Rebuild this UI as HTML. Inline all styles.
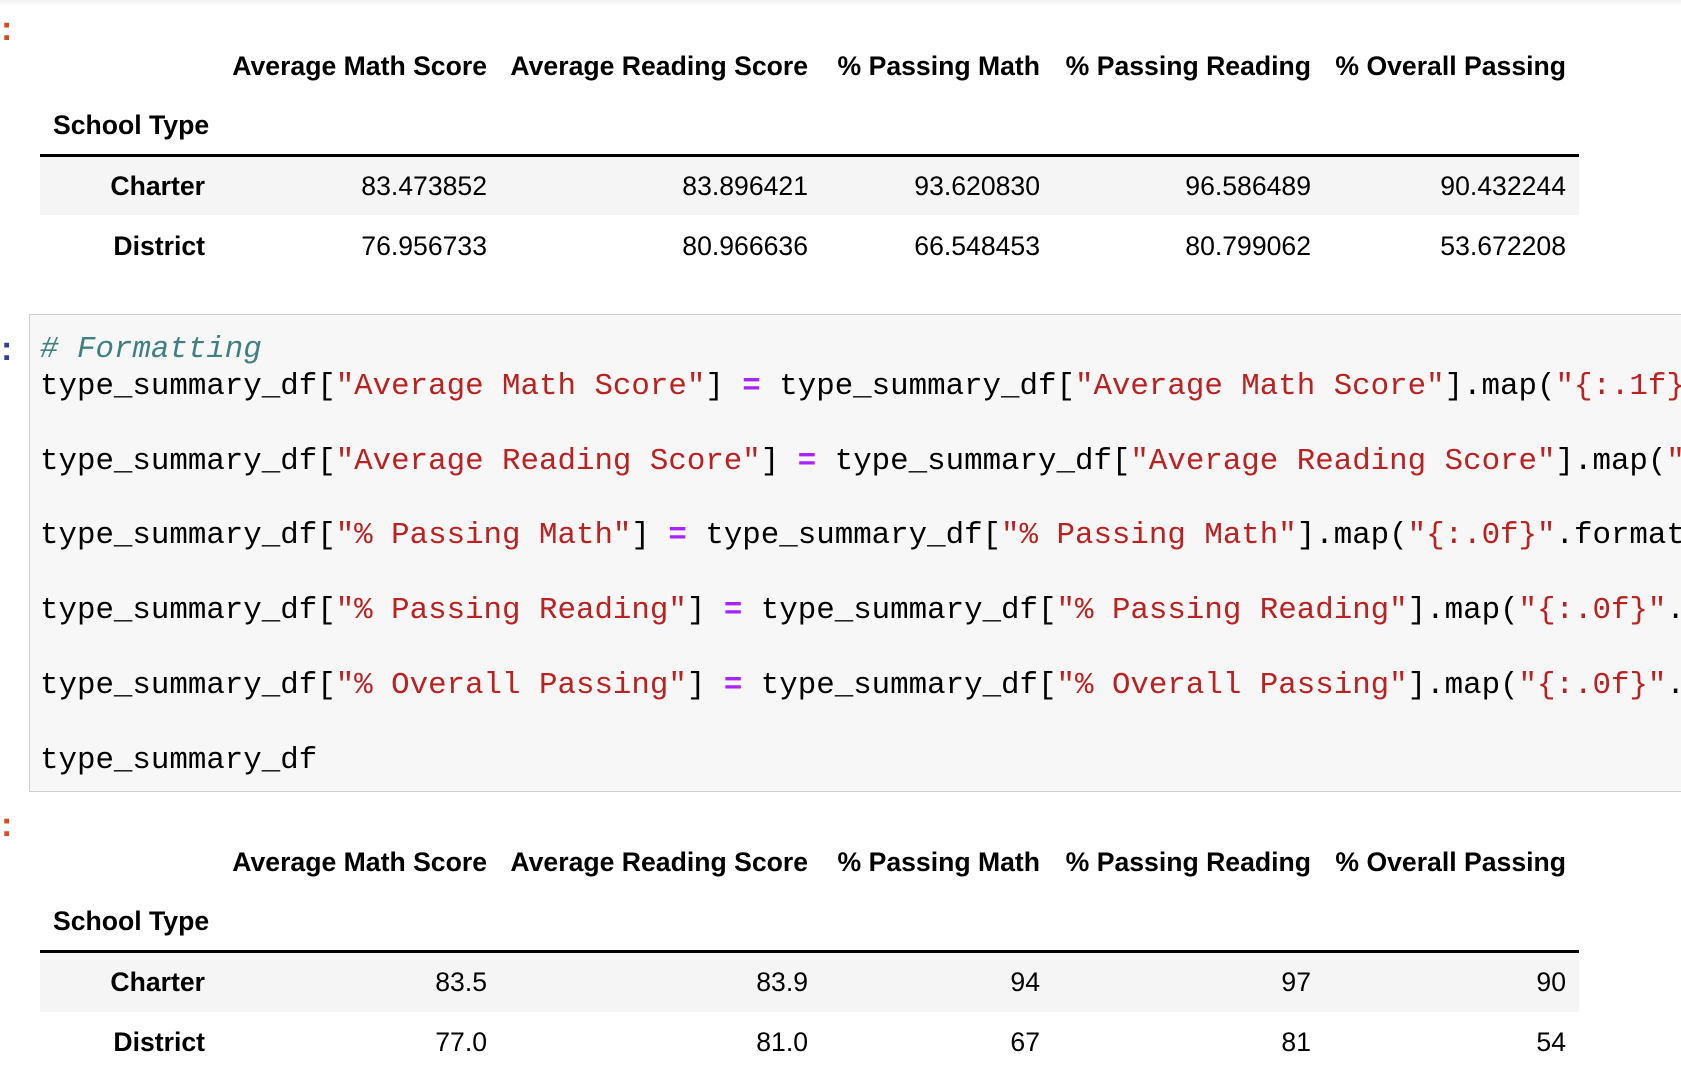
<!DOCTYPE html>
<html><head><meta charset="utf-8">
<style>
body{margin:0;width:1681px;height:1085px;overflow:hidden;background:#fff;position:relative;font-family:"Liberation Sans",Arial,sans-serif;color:#000}
.abs{position:absolute;white-space:nowrap}
.th{font-weight:bold;font-size:26.6px;line-height:30px}
.td{font-size:26.6px;line-height:30px}
.r{text-align:right}
.prompt{position:absolute;left:1px;font-size:34px;font-weight:bold;line-height:30px}
.band{position:absolute;left:40px;width:1539px;background:#f5f5f5}
.rule{position:absolute;left:40px;width:1539px;height:3px;background:#000}
.code{position:absolute;left:29px;top:314px;width:1680px;height:476px;background:#f7f7f7;border:1px solid #cfcfcf;overflow:hidden}
.ln{position:absolute;left:10px;font-family:"Liberation Mono",monospace;font-size:30.8px;line-height:36px;white-space:pre}
.s{color:#ba2121}.o{color:#aa22ff;font-weight:bold}.c{color:#408080;font-style:italic}
</style></head><body>
<div class="abs" style="left:0;top:0;width:1681px;height:6px;background:linear-gradient(#f2f2f2,#fff)"></div>

<div>
<div class="prompt" style="top:14px;color:#d84a22">:</div>
<div class="abs th r" style="right:1194px;top:51px">Average Math Score</div>
<div class="abs th r" style="right:873px;top:51px">Average Reading Score</div>
<div class="abs th r" style="right:641px;top:51px">% Passing Math</div>
<div class="abs th r" style="right:370px;top:51px">% Passing Reading</div>
<div class="abs th r" style="right:115px;top:51px">% Overall Passing</div>
<div class="abs th" style="left:53px;top:110px">School Type</div>
<div class="rule" style="top:154px"></div>
<div class="band" style="top:157px;height:58px"></div>
<div class="abs th r" style="right:1476px;top:171px">Charter</div>
<div class="abs td r" style="right:1194px;top:171px">83.473852</div>
<div class="abs td r" style="right:873px;top:171px">83.896421</div>
<div class="abs td r" style="right:641px;top:171px">93.620830</div>
<div class="abs td r" style="right:370px;top:171px">96.586489</div>
<div class="abs td r" style="right:115px;top:171px">90.432244</div>
<div class="abs th r" style="right:1476px;top:231px">District</div>
<div class="abs td r" style="right:1194px;top:231px">76.956733</div>
<div class="abs td r" style="right:873px;top:231px">80.966636</div>
<div class="abs td r" style="right:641px;top:231px">66.548453</div>
<div class="abs td r" style="right:370px;top:231px">80.799062</div>
<div class="abs td r" style="right:115px;top:231px">53.672208</div>
</div>

<div class="prompt" style="top:334px;color:#303f9f">:</div>
<div class="code">
<div class="ln" style="top:17px"><span class="c"># Formatting</span></div>
<div class="ln" style="top:54px">type_summary_df[<span class="s">"Average Math Score"</span>] <span class="o">=</span> type_summary_df[<span class="s">"Average Math Score"</span>].map(<span class="s">"{:.1f}"</span>.format)</div>
<div class="ln" style="top:129px">type_summary_df[<span class="s">"Average Reading Score"</span>] <span class="o">=</span> type_summary_df[<span class="s">"Average Reading Score"</span>].map(<span class="s">"{:.1f}"</span>.format)</div>
<div class="ln" style="top:203px">type_summary_df[<span class="s">"% Passing Math"</span>] <span class="o">=</span> type_summary_df[<span class="s">"% Passing Math"</span>].map(<span class="s">"{:.0f}"</span>.format)</div>
<div class="ln" style="top:278px">type_summary_df[<span class="s">"% Passing Reading"</span>] <span class="o">=</span> type_summary_df[<span class="s">"% Passing Reading"</span>].map(<span class="s">"{:.0f}"</span>.format)</div>
<div class="ln" style="top:353px">type_summary_df[<span class="s">"% Overall Passing"</span>] <span class="o">=</span> type_summary_df[<span class="s">"% Overall Passing"</span>].map(<span class="s">"{:.0f}"</span>.format)</div>
<div class="ln" style="top:428px">type_summary_df</div>
</div>

<div>
<div class="prompt" style="top:810px;color:#d84a22">:</div>
<div class="abs th r" style="right:1194px;top:847px">Average Math Score</div>
<div class="abs th r" style="right:873px;top:847px">Average Reading Score</div>
<div class="abs th r" style="right:641px;top:847px">% Passing Math</div>
<div class="abs th r" style="right:370px;top:847px">% Passing Reading</div>
<div class="abs th r" style="right:115px;top:847px">% Overall Passing</div>
<div class="abs th" style="left:53px;top:906px">School Type</div>
<div class="rule" style="top:950px"></div>
<div class="band" style="top:953px;height:59px"></div>
<div class="abs th r" style="right:1476px;top:967px">Charter</div>
<div class="abs td r" style="right:1194px;top:967px">83.5</div>
<div class="abs td r" style="right:873px;top:967px">83.9</div>
<div class="abs td r" style="right:641px;top:967px">94</div>
<div class="abs td r" style="right:370px;top:967px">97</div>
<div class="abs td r" style="right:115px;top:967px">90</div>
<div class="abs th r" style="right:1476px;top:1027px">District</div>
<div class="abs td r" style="right:1194px;top:1027px">77.0</div>
<div class="abs td r" style="right:873px;top:1027px">81.0</div>
<div class="abs td r" style="right:641px;top:1027px">67</div>
<div class="abs td r" style="right:370px;top:1027px">81</div>
<div class="abs td r" style="right:115px;top:1027px">54</div>
</div>
</body></html>
